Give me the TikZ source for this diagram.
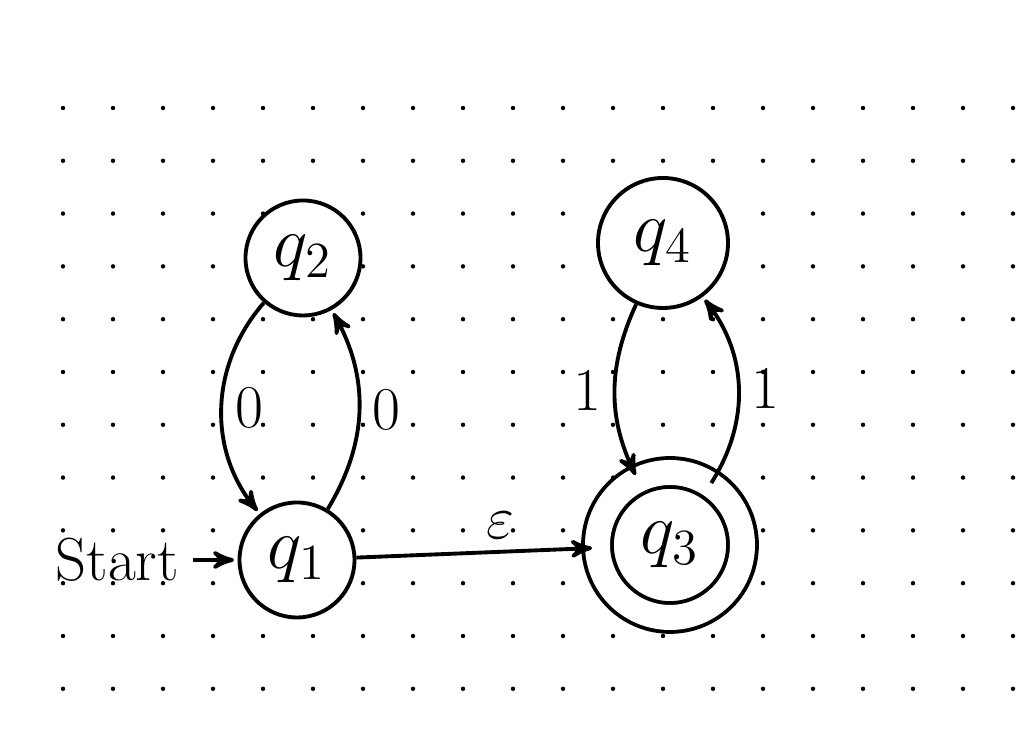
\documentclass[tikz,border=0pt]{standalone}
\usepackage{amsmath}
\usetikzlibrary{arrows,automata}

\begin{document}
\begin{tikzpicture}[->,>=stealth',shorten >=1pt,auto,line width=1.1pt,font=\LARGE,
        every state/.style={draw,fill=white,minimum size=1.15cm,inner sep=0pt,font=\huge},
        accepting/.style={double distance=0.25cm,minimum size=1.45cm},
        initial text=Start,initial distance=0.45cm]

  \useasboundingbox (0,0) rectangle (10.24,7.34);

  % dotted paper
  \foreach \x in {0,...,19}
    \foreach \y in {0,...,11}
      \fill[-] (0.63+0.50*\x,6.26-0.528*\y) circle (0.022);

  \node[state,initial] (q1) at (2.97,1.74) {$q_1$};
  \node[state] (q2) at (3.03,4.76) {$q_2$};
  \node[state,accepting] (q3) at (6.70,1.89) {$q_3$};
  \node[state,minimum size=1.3cm] (q4) at (6.63,4.91) {$q_4$};

  \path (q2) edge[bend right=40]          node {$0$} (q1)
        (q1) edge[bend right=30]          node[swap] {$0$} (q2)
        (q1) edge                         node[pos=0.6] {$\varepsilon$} (q3)
        (q4) edge[bend right=25]          node[swap] {$1$} (q3)
        (q3) edge[bend right=35]          node[swap] {$1$} (q4);

\end{tikzpicture}
\end{document}
